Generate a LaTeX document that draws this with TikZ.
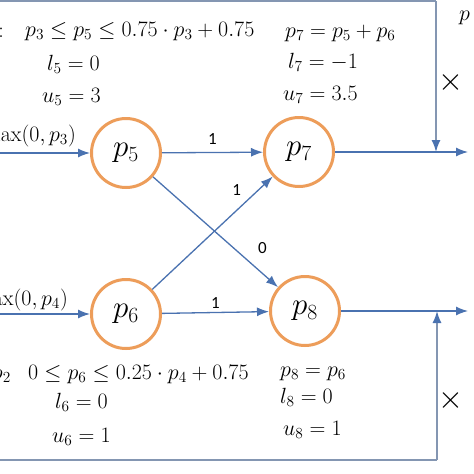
\RequirePackage{fix-cm}
\documentclass[tikz,border=0pt]{standalone}
\usepackage{fontspec}
\newfontfamily\labelfont{Carlito}
\usetikzlibrary{arrows,arrows.meta}
\definecolor{edgeblue}{RGB}{74,114,176}
\definecolor{frameblue}{RGB}{132,150,178}
\definecolor{nodeorange}{RGB}{237,157,90}
\tikzset{
  >={Latex[length=12pt,width=9pt]},
  {neuron/.style} ={circle, draw=nodeorange, line width=3pt, fill=white,
                    minimum size=69pt, inner sep=0pt, text=black,
                    font=\fontsize{31}{31}\selectfont},
  {edge/.style} ={draw, line width=1.3pt, edgeblue, ->},
  {frame/.style} ={draw, line width=1.5pt, frameblue},
  {weight/.style} ={font=\labelfont\fontsize{17}{17}\selectfont,
                    inner sep=0pt, text=black},
  {bound/.style} ={anchor=base west, inner sep=0pt,
                   font=\fontsize{22}{24}\selectfont},
  {cut/.style} ={font=\fontsize{32}{32}\selectfont, inner sep=0pt},
}

\begin{document}
\begin{tikzpicture}[x=1pt,y=-1pt]
\useasboundingbox (0,0) rectangle (474,474);
\clip (0,0) rectangle (474,474);
% neurons
\node[neuron] (p5) at (126,153) {$p_5$};
\node[neuron] (p7) at (299,152) {$p_7$};
\node[neuron] (p6) at (126,314) {$p_6$};
\node[neuron] (p8) at (305,311) {$p_8$};
\coordinate (in3) at (-5,153);
\coordinate (in4) at (-5,314);
\coordinate (out7) at (468,152);
\coordinate (out8) at (468,311);
\coordinate (top7) at (436,1);
\coordinate (tap7) at (436,152);
\coordinate (bot8) at (437,460);
\coordinate (tap8) at (437,311);
% inputs and outputs
\path[edge] (in3) -- (p5);
\path[edge] (in4) -- (p6);
\path[edge] (p7) -- (out7);
\path[edge] (p8) -- (out8);
\node[anchor=base east, inner sep=0pt, font=\fontsize{22}{24}\selectfont] (x3) at (76,141) {$\max(0,p_3)$};
\node[anchor=base east, inner sep=0pt, font=\fontsize{22}{24}\selectfont] (x4) at (68,305) {$\max(0,p_4)$};
% weights
\path[edge] (p5) -- node[weight, above=7pt] {1} (p7);
\path[edge] (p6) -- node[weight, pos=0.70, above=14pt] {1} (p7);
\path[edge] (p5) -- node[weight, pos=0.875, above=19pt] {0} (p8);
\path[edge] (p6) -- node[weight, above=3pt] {1} (p8);
% frame
\draw[frame, line width=2.5pt] (-5,1) -- (top7);
\draw[frame, -{Latex[length=12pt,width=9pt,color=edgeblue]}] (top7) -- (tap7);
\draw[frame] (-5,460) -- (bot8);
\draw[frame, -{Latex[length=12pt,width=9pt,color=edgeblue]}] (bot8) -- (tap8);
\node[cut] (cut7) at (451,82) {$\times$};
\node[cut] (cut8) at (451,400) {$\times$};
% bounds
\node[bound] (b5) at (25,36) {$p_3 \le p_5 \le 0.75\cdot p_3 + 0.75$};
\node[bound] (l5) at (47,70) {$l_5 = 0$};
\node[bound] (u5) at (42,102) {$u_5 = 3$};
\node[bound] (b7) at (285,37) {$p_7 = p_5 + p_6$};
\node[bound] (l7) at (288,68) {$l_7 = -1$};
\node[bound] (u7) at (283,100) {$u_7 = 3.5$};
\node[bound] (b6) at (28,379) {$0 \le p_6 \le 0.25\cdot p_4 + 0.75$};
\node[bound] (l6) at (55,408) {$l_6 = 0$};
\node[bound] (u6) at (52,442) {$u_6 = 1$};
\node[bound] (b8) at (280,376) {$p_8 = p_6$};
\node[bound] (l8) at (280,403) {$l_8 = 0$};
\node[bound] (u8) at (283,435) {$u_8 = 1$};
% cut-off labels at the edges
\node[anchor=base east, inner sep=0pt, font=\fontsize{22}{24}\selectfont] (c1) at (4,37) {:};
\node[bound] (c2) at (459,20) {$p$};
\node[anchor=base east, inner sep=0pt, font=\fontsize{22}{24}\selectfont] (c3) at (11,379) {$p_2$};
\end{tikzpicture}
\end{document}
